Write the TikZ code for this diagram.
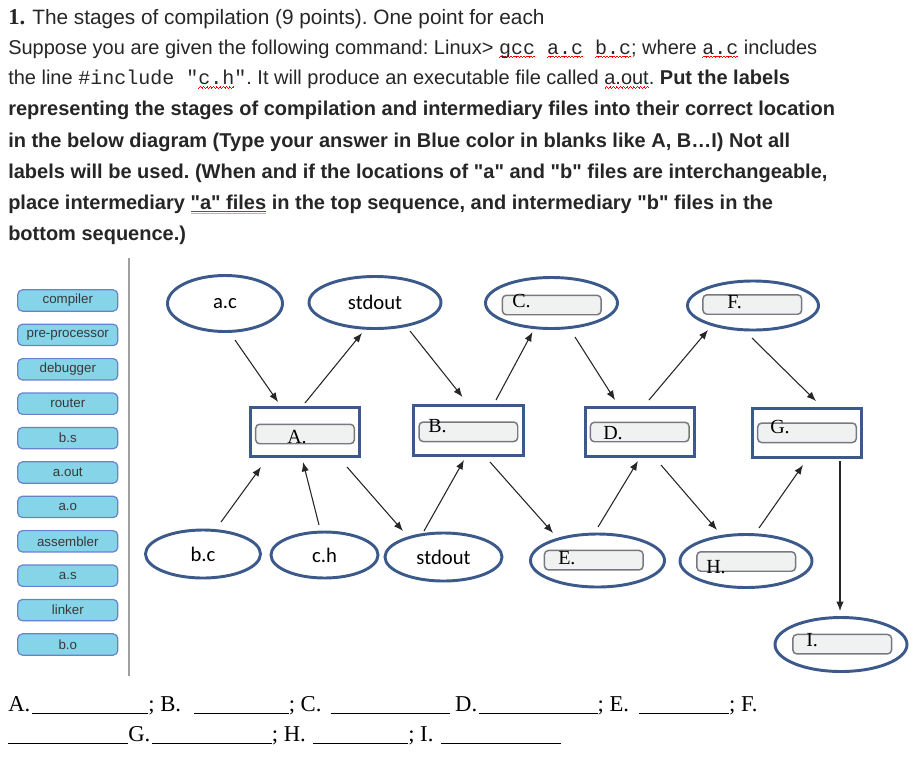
\documentclass[tikz,border=0pt]{standalone}
\usepackage{fontspec}
\setmainfont{Liberation Sans}[Ligatures=TeXOff]
\newfontfamily\monof{Liberation Mono}
\newfontfamily\timesf{Liberation Serif}
\newfontfamily\calibf{Carlito}
\usetikzlibrary{shapes.geometric,arrows.meta,calc}
\frenchspacing

\definecolor{frame}{RGB}{59,89,138}
\definecolor{chipfill}{RGB}{134,212,232}
\definecolor{chipline}{RGB}{104,130,206}
\definecolor{blankfill}{RGB}{240,241,241}
\definecolor{blankline}{RGB}{120,120,128}
\definecolor{ink}{RGB}{38,38,38}
\definecolor{linkblue}{RGB}{40,90,200}

\newdimen\pxu \pxu=0.75pt
% red wavy underline (spell-check marks)
\newcommand\redwave[1]{\setbox0\hbox{#1}\rlap{\color{red}\lower2.8pt\hbox to\wd0{\xleaders\hbox{%
  \rule[0pt]{0.6pt}{0.5pt}\rule[0.45pt]{0.6pt}{0.5pt}\rule[0.9pt]{0.6pt}{0.5pt}\rule[0.45pt]{0.6pt}{0.5pt}}\hfil}}\box0\relax}
% blue double underline
\newcommand\blueline[1]{\setbox0\hbox{#1}\rlap{\color{linkblue}\rule[-2.4pt]{\wd0}{0.6pt}}%
  \rlap{\color{linkblue!45}\rule[-3.4pt]{\wd0}{0.5pt}}\box0\relax}
\newcommand\gapline[1]{\rule[-2pt]{#1\pxu}{0.8pt}}

\begin{document}
\begin{tikzpicture}[x=0.75pt,y=-0.75pt,
  qline/.style={anchor=base west, inner sep=0pt, text=ink, font=\fontsize{15}{18}\selectfont},
  chip/.style={rectangle, rounded corners=3.5pt, draw=chipline, fill=chipfill, line width=0.9pt,
    minimum width=75pt, minimum height=16pt, inner sep=0pt, text=black!78, font=\fontsize{10}{12}\selectfont},
  fileoval/.style={ellipse, draw=frame, line width=2.2pt, inner sep=0pt, font=\calibf\fontsize{15.5}{18}\selectfont},
  stage/.style={rectangle, draw=frame, line width=2.2pt, minimum width=82pt, minimum height=37pt, inner sep=0pt},
  answerbox/.style={rectangle, rounded corners=3pt, draw=blankline, fill=blankfill, line width=1.1pt,
    minimum width=74pt, minimum height=14.6pt, inner sep=0pt},
  tag/.style={anchor=base west, inner sep=0pt, font=\timesf\fontsize{15}{18}\selectfont},
  ansline/.style={anchor=base west, inner sep=0pt, font=\timesf\fontsize{17}{20}\selectfont},
  arr/.style={-{Latex[length=7pt,width=5.5pt]}, line width=0.8pt, draw=black!85}
]
\fill[white] (0,0) rectangle (921,758);
\useasboundingbox (0,0) rectangle (921,758);

% question text
\node[qline,font=\fontsize{15.6}{18}\selectfont] (q1) at (8,24.5) {{\timesf\bfseries\fontsize{17}{18}\selectfont 1.}\kern1pt{} The stages of compilation (9 points). One point for each};
\node[qline] (q2) at (8,54) {Suppose you are given the following command: Linux> {\monof\redwave{gcc} \redwave{a.c} \redwave{b.c}}; where {\monof\redwave{a.c}} includes};
\node[qline] (q3) at (8,84.5) {the line {\monof\#include "\redwave{c.h}"}. It will produce an executable file called \redwave{a.out}. \textbf{Put the labels}};
\node[qline,font=\fontsize{15}{18}\selectfont\bfseries] (q4) at (8,115.5) {representing the stages of compilation and intermediary files into their correct location};
\node[qline,font=\fontsize{15}{18}\selectfont\bfseries] (q5) at (8,147) {in the below diagram (Type your answer in Blue color in blanks like A, B…I) Not all};
\node[qline,font=\fontsize{15}{18}\selectfont\bfseries] (q6) at (8,178) {labels will be used. (When and if the locations of "a" and "b" files are interchangeable,};
\node[qline,font=\fontsize{15}{18}\selectfont\bfseries] (q7) at (8,209) {place intermediary \blueline{"a" files} in the top sequence, and intermediary "b" files in the};
\node[qline,font=\fontsize{15}{18}\selectfont\bfseries] (q8) at (8,240.5) {bottom sequence.)};

% label bank
\foreach \lab [count=\i from 0] in {compiler,pre-processor,debugger,router,b.s,a.out,a.o,assembler,a.s,linker,b.o}
  \node[chip] (chip\i) at (67.8,300.5+34.4*\i) {\lab};
\draw[gray!75, line width=1.5pt] (129,258) -- (129,676);

% files, top row
\node[fileoval, minimum width=86.25pt, minimum height=42pt] (ac) at (225,303.5) {a.c};
\node[fileoval, minimum width=99pt, minimum height=39pt] (so1) at (375,302.5) {stdout};
\node[fileoval, minimum width=99pt, minimum height=38.25pt] (C) at (551.5,303) {};
\node[fileoval, minimum width=98.25pt, minimum height=36.75pt] (F) at (753,305.5) {};
% stages
\node[stage] (A) at (305,432) {};
\node[stage] (B) at (468.5,430.5) {};
\node[stage] (D) at (640,432) {};
\node[stage] (G) at (807,433) {};
% files, bottom row
\node[fileoval, minimum width=86.25pt, minimum height=36pt] (bc) at (203,554) {b.c};
\node[fileoval, minimum width=80.25pt, minimum height=34.5pt] (ch) at (324.5,555) {c.h};
\node[fileoval, minimum width=87.75pt, minimum height=36pt] (so2) at (443.5,557) {stdout};
\node[fileoval, minimum width=100.5pt, minimum height=39.75pt] (E) at (597.5,560.5) {};
\node[fileoval, minimum width=99pt, minimum height=39.75pt] (H) at (746,561) {};
\node[fileoval, minimum width=99pt, minimum height=40.5pt] (I) at (841,644.5) {};

% blanks
\node[answerbox] (Abox) at (305,434) {};
\node[answerbox] (Bbox) at (468.4,431.8) {};
\node[answerbox] (Cbox) at (551.7,305) {};
\node[answerbox] (Dbox) at (639.7,432) {};
\node[answerbox] (Ebox) at (593.8,560.2) {};
\node[answerbox] (Fbox) at (752.3,304.5) {};
\node[answerbox] (Gbox) at (807,432.8) {};
\node[answerbox] (Hbox) at (746.2,561.5) {};
\node[answerbox] (Ibox) at (842.2,644.2) {};
\node[tag] (Alab) at (287,443) {A.};
\node[tag] (Blab) at (428,432) {B.};
\node[tag] (Clab) at (512,307) {C.};
\node[tag] (Dlab) at (603,439) {D.};
\node[tag] (Elab) at (558,564) {E.};
\node[tag] (Flab) at (727,308) {F.};
\node[tag] (Glab) at (770,433) {G.};
\node[tag] (Hlab) at (706,573) {H.};
\node[tag] (Ilab) at (806,646) {I.};

% connectors
\foreach \s/\sx/\sy/\t/\tx/\ty in {ac/10/36.5/A/-27/-30, A/0/-29/so1/-13/30.5, so1/35/28.5/B/-6/-33.5,
    B/27.5/-30.5/C/-19/29, C/23.5/34/D/-25/-32, D/9/-32/F/-45/24.5, F/-1/32.5/G/9/-32,
    bc/18/-32/A/-44/35, ch/-5.5/-30/A/-2/30, A/42/35/so2/-40.5/-26, so2/-19.5/-26/B/-4.5/29.5,
    B/21.5/31.5/E/-44.5/-27.5, E/0.5/-33.5/D/-2/29, D/21/33/H/-29/-31, H/13/-33/G/-4/32,
    G/33/28/I/-1/-33.5}
  \draw[arr] ($(\s)+(\sx,\sy)$) -- ($(\t)+(\tx,\ty)$);

% answer lines
\node[ansline] (ans1) at (8,711) {A.\kern1.5\pxu\gapline{116.6}; B.\hspace{13\pxu}\gapline{94.6}; C.\hspace{9\pxu}\gapline{119} D.\kern2\pxu\gapline{118.4}; E.\hspace{10\pxu}\gapline{90}; F.};
\node[ansline] (ans2) at (8,741) {\gapline{120}G.\kern1.5\pxu\gapline{120}; H.\hspace{7.5\pxu}\gapline{95}; I.\hspace{8\pxu}\gapline{120}};
\end{tikzpicture}
\end{document}
